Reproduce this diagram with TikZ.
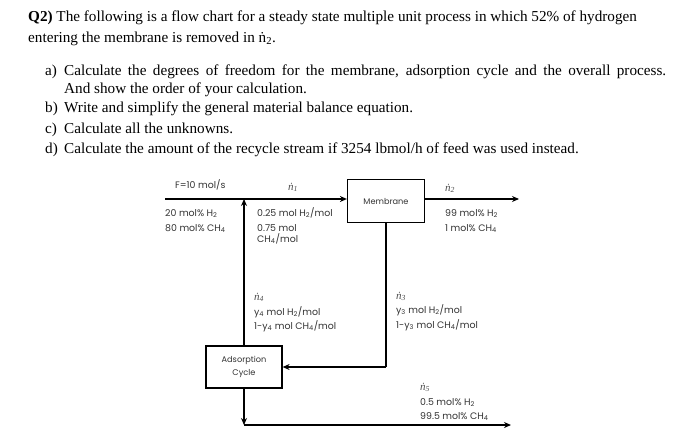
\documentclass[tikz,border=0pt]{standalone}
\usepackage{fontspec}
\setmainfont{Liberation Serif}
\newfontfamily\gfont{Poppins}
\usetikzlibrary{arrows.meta}
\begin{document}
\begin{tikzpicture}[x=1pt,y=-1pt,
  qtext/.style={anchor=base west,inner sep=0pt,font=\fontsize{15.2}{17}\selectfont},
  lbl/.style={anchor=base west,inner sep=0pt,font=\gfont\fontsize{9.4}{10}\selectfont,text=black!80},
  nlbl/.style={anchor=base west,inner sep=0pt,font=\itshape\fontsize{11}{12}\selectfont,text=black!70},
  flow/.style={line width=1.5pt,-{Stealth[length=7pt,width=6pt]}},
  plain/.style={line width=1.5pt},
  unitbox/.style={draw,line width=1.2pt,minimum width=77pt,minimum height=43pt,align=center,font=\gfont\fontsize{8.2}{13}\selectfont,text=black!80}]
\useasboundingbox (0,0) rectangle (700,436);
\fill[white] (0,0) rectangle (700,436);
% question text
\node[qtext] (q1) at (28,22) {\textbf{Q2)} The following is a flow chart for a steady state multiple unit process in which 52\% of hydrogen};
\node[qtext] (q2) at (28,42) {entering the membrane is removed in ṅ\textsubscript{2}.};
\node[qtext] (qa) at (45,75) {a)};
\node[qtext] (qat) at (64,75) {\makebox[602pt][s]{Calculate the degrees of freedom for the membrane, adsorption cycle and the overall process.}};
\node[qtext] (qa2) at (64,93) {And show the order of your calculation.};
\node[qtext] (qb) at (45,112) {b)};
\node[qtext] (qbt) at (64,112) {Write and simplify the general material balance equation.};
\node[qtext] (qc) at (45,133) {c)};
\node[qtext] (qct) at (64,133) {Calculate all the unknowns.};
\node[qtext] (qd) at (45,153) {d)};
\node[qtext] (qdt) at (64,153) {Calculate the amount of the recycle stream if 3254 lbmol/h of feed was used instead.};
% units
\node[unitbox] (mem) at (386,201) {Membrane};
\node[unitbox,minimum width=76pt,minimum height=42pt] (ads) at (244,367) {Adsorption\\Cycle};
% points
\coordinate (feed) at (165,199);
\coordinate (mix) at (244,199);
\coordinate (prod) at (519,199);
\coordinate (turn) at (386,367);
\coordinate (bot) at (244,425);
\coordinate (waste) at (511,425);
% connectors
\draw[flow] (feed) -- (mem.west |- feed);
\draw[flow] (mem.east |- prod) -- (prod);
\draw[flow] (ads.north) -- (mix);
\draw[plain] (mem.south) -- (turn);
\draw[flow] (turn) -- (ads.east);
\draw[flow] (ads.south) -- (bot);
\draw[flow] (bot) -- (waste);
% labels
\node[lbl] (lf) at (175,188) {F=10 mol/s};
\node[lbl] (lf1) at (165,216) {20 mol\% H\textsubscript{2}};
\node[lbl] (lf2) at (165,231) {80 mol\% CH\textsubscript{4}};
\node[nlbl] (ln1) at (288,190) {ṅ\textsubscript{1}};
\node[lbl] (l11) at (257,216) {0.25 mol H\textsubscript{2}/mol};
\node[lbl] (l12) at (257,231) {0.75 mol};
\node[lbl] (l13) at (257,242) {CH\textsubscript{4}/mol};
\node[nlbl] (ln2) at (445,191) {ṅ\textsubscript{2}};
\node[lbl] (l21) at (445,216) {99 mol\% H\textsubscript{2}};
\node[lbl] (l22) at (445,231) {1 mol\% CH\textsubscript{4}};
\node[nlbl] (ln4) at (254,300) {ṅ\textsubscript{4}};
\node[lbl] (l41) at (254,315) {y\textsubscript{4} mol H\textsubscript{2}/mol};
\node[lbl] (l42) at (254,329) {1-y\textsubscript{4} mol CH\textsubscript{4}/mol};
\node[nlbl] (ln3) at (396,299) {ṅ\textsubscript{3}};
\node[lbl] (l31) at (396,313) {y\textsubscript{3} mol H\textsubscript{2}/mol};
\node[lbl] (l32) at (396,328) {1-y\textsubscript{3} mol CH\textsubscript{4}/mol};
\node[nlbl] (ln5) at (420,390) {ṅ\textsubscript{5}};
\node[lbl] (l51) at (420,405) {0.5 mol\% H\textsubscript{2}};
\node[lbl] (l52) at (420,419) {99.5 mol\% CH\textsubscript{4}};
\end{tikzpicture}
\end{document}
